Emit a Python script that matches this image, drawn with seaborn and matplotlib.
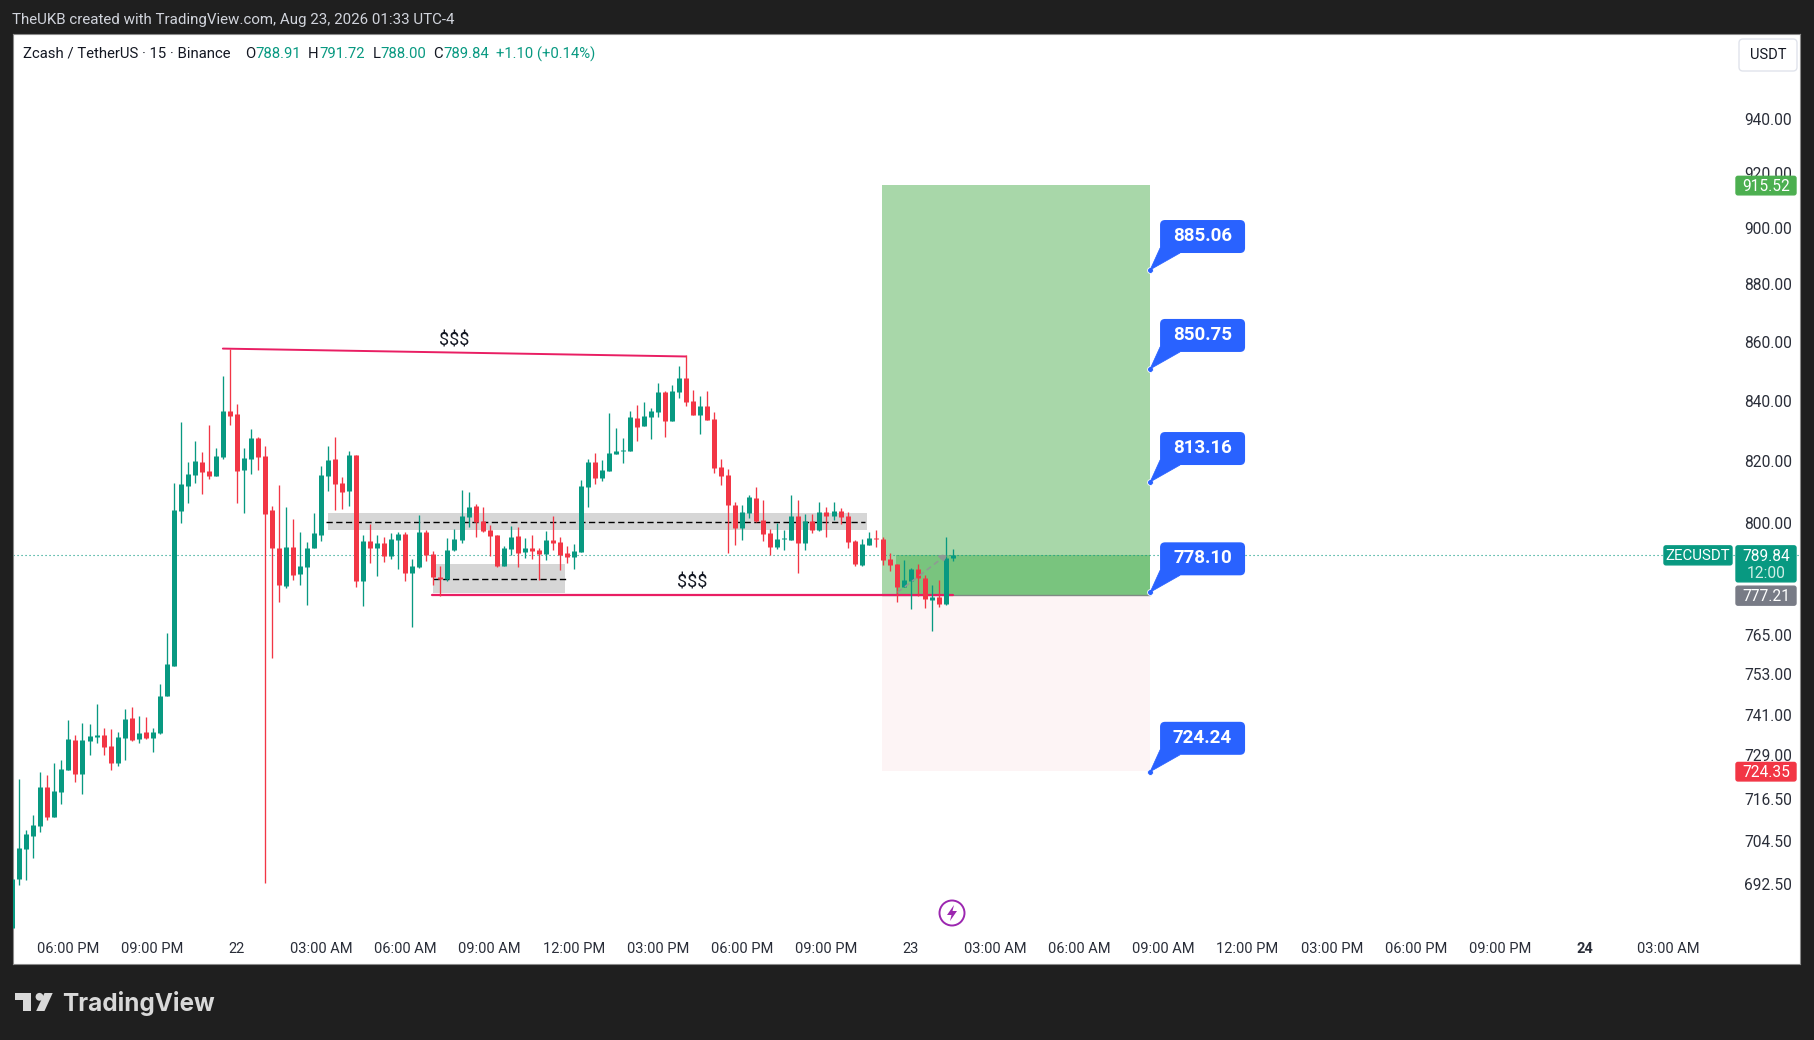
import pandas as pd
import seaborn as sns
from matplotlib import pyplot as plt
from matplotlib.patches import Circle, FancyBboxPatch, Polygon
from matplotlib.ticker import NullLocator
from matplotlib.transforms import Affine2D

# 15 minute candles
opens = [680.5, 693.8, 702.2, 705.8, 708.6, 719.8, 711.2, 718.3, 724.7, 733.5,
         723.6, 733.2, 734.3, 735.0, 731.7, 726.8, 734.1, 740.0, 733.8, 735.8,
         734.1, 735.6, 746.5, 755.4, 803.8, 811.9, 815.5, 819.6, 816.8, 815.2,
         821.2, 836.5, 835.5, 817.1, 820.7, 827.6, 821.6, 804.1, 792.1, 780.0,
         792.4, 783.8, 785.9, 791.9, 796.1, 815.2, 820.7, 812.8, 810.2, 821.9,
         781.6, 794.2, 792.0, 793.6, 789.5, 794.5, 796.4, 784.1, 786.0, 797.0,
         790.1, 782.9, 782.2, 791.4, 794.5, 801.8, 805.3, 800.5, 797.7, 796.1,
         786.3, 791.7, 795.8, 790.7, 792.0, 791.4, 790.1, 794.5, 793.9, 790.4,
         789.2, 790.7, 811.5, 819.7, 814.4, 816.7, 822.2, 823.3, 823.3, 834.2,
         831.5, 834.6, 836.2, 842.9, 833.2, 842.9, 847.6, 839.9, 835.2, 838.2,
         833.9, 817.9, 815.4, 805.6, 798.3, 803.1, 807.9, 800.9, 796.7, 792.3,
         794.8, 794.5, 802.1, 793.6, 800.5, 797.7, 803.4, 802.1, 803.7, 802.1,
         794.2, 786.6, 792.9, 795.1, 794.8, 788.5, 786.9, 779.7, 781.6, 785.4,
         782.5, 775.7, 776.6, 774.4, 788.91]
highs = [694.0, 722.1, 707.6, 711.8, 724.1, 723.3, 726.8, 727.6, 739.4, 735.0,
         738.4, 738.2, 744.2, 737.1, 736.8, 735.8, 742.7, 743.2, 740.5, 740.2,
         737.1, 750.2, 765.7, 812.9, 832.8, 819.6, 826.5, 822.9, 831.8, 824.3,
         848.3, 857.7, 838.9, 824.3, 830.5, 827.8, 824.9, 805.4, 812.2, 805.0,
         801.3, 797.0, 793.8, 803.2, 818.4, 824.9, 827.8, 814.7, 823.3, 821.9,
         796.1, 799.6, 796.1, 795.5, 796.7, 797.0, 797.0, 788.5, 802.5, 797.7,
         791.0, 786.3, 795.1, 798.0, 810.5, 809.9, 806.0, 805.0, 799.3, 796.1,
         792.6, 798.9, 798.6, 795.1, 796.1, 792.0, 797.4, 802.1, 795.5, 792.6,
         793.2, 813.8, 820.7, 822.6, 820.4, 836.0, 830.9, 827.6, 836.6, 838.6,
         839.6, 837.6, 845.9, 843.2, 845.2, 851.9, 855.5, 843.6, 841.6, 843.2,
         836.2, 820.6, 817.3, 806.6, 805.6, 808.8, 811.5, 807.2, 798.0, 799.9,
         797.7, 809.1, 807.2, 802.7, 802.7, 806.6, 805.0, 806.6, 804.7, 803.4,
         794.5, 794.8, 797.0, 797.7, 795.5, 790.4, 786.9, 788.2, 785.7, 786.9,
         783.5, 780.4, 781.9, 795.5, 791.72]
lows = [680.5, 692.2, 693.5, 699.7, 706.9, 710.4, 711.2, 715.0, 724.7, 721.2,
        717.8, 729.1, 732.6, 729.1, 724.7, 725.9, 727.6, 733.2, 732.6, 733.8,
        730.0, 735.3, 746.5, 755.4, 800.0, 806.4, 812.9, 809.3, 814.2, 815.2,
        820.7, 831.8, 806.4, 803.2, 815.9, 817.1, 692.7, 757.9, 775.0, 779.4,
        781.9, 780.3, 774.1, 791.9, 794.2, 810.2, 804.1, 804.4, 805.3, 779.7,
        773.8, 787.3, 783.2, 787.5, 788.5, 785.4, 781.6, 767.4, 785.7, 787.9,
        780.4, 776.9, 781.6, 791.0, 793.6, 798.6, 795.4, 797.0, 789.5, 786.0,
        786.3, 789.8, 786.0, 788.8, 788.5, 781.9, 788.2, 791.4, 785.0, 787.3,
        785.4, 790.7, 805.0, 812.5, 813.4, 816.7, 822.2, 819.5, 823.3, 826.6,
        831.5, 827.2, 834.6, 827.9, 833.2, 840.9, 838.2, 835.2, 828.9, 833.6,
        816.0, 812.1, 790.4, 792.9, 794.5, 801.5, 800.2, 794.2, 789.8, 791.7,
        791.4, 794.5, 784.1, 791.4, 796.7, 797.3, 795.4, 800.9, 799.6, 792.0,
        786.3, 786.3, 792.9, 792.3, 786.6, 784.7, 775.0, 779.7, 772.9, 777.1,
        773.2, 766.2, 773.5, 774.1, 788.0]
closes = [694.0, 702.5, 706.4, 708.9, 719.8, 711.2, 718.6, 725.0, 733.8, 723.6,
          733.5, 734.6, 735.0, 731.4, 726.8, 734.3, 739.7, 733.5, 735.6, 734.1,
          735.8, 746.5, 756.0, 804.1, 812.5, 815.9, 819.9, 816.4, 815.2, 821.6,
          836.5, 834.8, 816.8, 821.0, 827.6, 821.2, 802.9, 791.9, 780.3, 792.4,
          783.5, 786.2, 792.1, 796.8, 815.5, 820.4, 812.5, 809.9, 821.9, 781.6,
          794.2, 792.0, 793.6, 789.5, 794.8, 796.4, 784.1, 786.3, 797.0, 789.8,
          782.9, 782.2, 791.4, 794.8, 802.1, 805.0, 800.2, 797.3, 795.8, 786.3,
          792.0, 795.4, 790.4, 792.0, 791.0, 790.1, 794.5, 793.6, 789.8, 789.2,
          791.0, 811.8, 819.7, 814.4, 817.0, 822.6, 823.3, 823.6, 834.6, 831.2,
          834.9, 836.6, 842.9, 833.2, 843.2, 847.6, 839.6, 835.2, 838.2, 833.6,
          817.6, 815.0, 805.6, 798.3, 803.4, 808.2, 800.5, 796.4, 792.3, 794.8,
          795.1, 802.1, 793.6, 800.5, 797.7, 803.4, 802.1, 803.7, 801.8, 793.9,
          786.9, 793.2, 795.1, 794.8, 788.2, 786.6, 779.7, 781.9, 785.4, 782.5,
          776.0, 776.6, 774.4, 788.8, 789.84]

price_ticks = [940, 920, 900, 880, 860, 840, 820, 800, 765, 753, 741, 729, 716.5, 704.5, 692.5]
time_ticks = [8, 20, 32, 44, 56, 68, 80, 92, 104, 116, 128, 140, 152, 164, 176, 188, 200, 212, 224, 236]
time_labels = ["06:00 PM", "09:00 PM", "22", "03:00 AM", "06:00 AM", "09:00 AM", "12:00 PM", "03:00 PM",
               "06:00 PM", "09:00 PM", "23", "03:00 AM", "06:00 AM", "09:00 AM", "12:00 PM", "03:00 PM",
               "06:00 PM", "09:00 PM", "24", "03:00 AM"]
targets = [885.06, 850.75, 813.16, 778.10, 724.24]

last_price = 789.84
entry = 777.21
take_profit = 915.52
stop_loss = 724.35

GREEN = "#089981"
RED = "#f23645"
BLUE = "#2962ff"
PINK = "#e91e63"
W, H = 1814, 1040

sns.set_theme(style="white")
plt.rcParams["font.family"] = ["Roboto", "DejaVu Sans"]

fig = plt.figure(figsize=(W / 100, H / 100), dpi=100, facecolor="#1f1f1f")
ax = fig.add_axes([13 / W, 1 - 964 / H, (1800 - 13) / W, (964 - 34) / H], facecolor="white")
ax.set_yscale("log")
px = Affine2D().scale(1 / W, -1 / H).translate(0, 1) + fig.transFigure

df = pd.DataFrame({"bar": range(len(opens)), "open": opens, "high": highs, "low": lows, "close": closes})
df["direction"] = ["up" if c >= o else "down" for o, c in zip(opens, closes)]
wicks = df.melt(id_vars=["bar", "direction"], value_vars=["low", "high"], value_name="price")
bodies = df.melt(id_vars=["bar", "direction"], value_vars=["open", "close"], value_name="price")
palette = {"up": GREEN, "down": RED}

# position tool behind the candles
ax.fill_between([123.9, 162.1], entry, take_profit, color="#a8d7a9", lw=0, zorder=1)
ax.fill_between([123.9, 162.1], stop_loss, entry, color="#fdf4f5", lw=0, zorder=1)
ax.fill_between([125.9, 162.1], entry, last_price, color="#79c47e", lw=0, zorder=1.1)
ax.plot([123.9, 162.1], [entry, entry], color="#808a84", lw=1.0, zorder=1.2)

# grey zones with their mid lines
ax.fill_between([45, 121.75], 797.7, 803.1, color="#d6d6d6", lw=0, zorder=1)
ax.plot([44.7, 121.5], [800.4, 800.4], color="black", lw=1.0, ls=(0, (4.5, 2.5)), zorder=2.5)
ax.fill_between([60, 78.7], 777.8, 787.0, color="#d6d6d6", lw=0, zorder=1)
ax.plot([60, 79], [782.4, 782.4], color="black", lw=1.0, ls=(0, (4.5, 2.5)), zorder=2.5)

ax.axhline(last_price, color=GREEN, lw=0.8, ls=(0, (1, 2.6)), zorder=1.5)

sns.lineplot(data=wicks, x="bar", y="price", hue="direction", units="bar", estimator=None, sort=False,
             palette=palette, legend=False, linewidth=0.95, solid_capstyle="butt", zorder=3, ax=ax)
sns.lineplot(data=bodies, x="bar", y="price", hue="direction", units="bar", estimator=None, sort=False,
             palette=palette, legend=False, linewidth=3.6, solid_capstyle="butt", zorder=3.1, ax=ax)

ax.plot([30, 96], [857.7, 855.0], color=PINK, lw=1.4, zorder=2.8)
ax.plot([59.8, 134], [entry, entry], color=PINK, lw=1.6, zorder=2.8)
ax.text(62.9, 860.6, "$$$", ha="center", va="center", fontsize=13, color="#131722")
ax.text(96.8, 781.3, "$$$", ha="center", va="center", fontsize=13, color="#131722")
ax.annotate("", xy=(133.3, 790.2), xytext=(126.2, 778.2), zorder=3.5,
            arrowprops=dict(arrowstyle="-|>", color="#8f9a94", lw=1.2, ls=(0, (2.5, 3)), shrinkA=0, shrinkB=0))

ax.set_xlabel("")
ax.set_ylabel("")
ax.yaxis.tick_right()
ax.yaxis.set_minor_locator(NullLocator())
ax.set_yticks(price_ticks, [f"{p:.2f}" for p in price_ticks])
ax.set_xticks(time_ticks, time_labels)
ax.tick_params(axis="y", length=0, pad=-23, labelsize=11.2, labelcolor="#2a2e39")
ax.tick_params(axis="x", length=0, pad=-11, labelsize=10.5, labelcolor="#2a2e39")
for label_ in ax.get_yticklabels():
    label_.set_ha("center")
for label_ in ax.get_xticklabels():
    label_.set_va("center")
    if label_.get_text() == "24":
        label_.set_fontweight("bold")
for side in ax.spines.values():
    side.set_color("#8a8a8a")
    side.set_linewidth(0.8)

sns.scatterplot(x=[162.1] * len(targets), y=targets, color=BLUE, s=18, edgecolor="white", linewidth=0.6,
                legend=False, zorder=4, ax=ax)
ax.set_xlim(0.1, 254.7)
ax.set_ylim(670.7, 972.6)


def price_y(price):
    return H - ax.transData.transform((0, price))[1]


def bar_x(bar):
    return ax.transData.transform((bar, 800))[0]


def tag(x0, x1, y0, y1, color):
    fig.add_artist(FancyBboxPatch((x0 + 1, y0 + 1), x1 - x0 - 2, y1 - y0 - 2, boxstyle="round,pad=0,rounding_size=2",
                                  fc=color, ec=color, lw=1, transform=px, zorder=5))


def label(x, y, text, **kw):
    kw.setdefault("color", "white")
    kw.setdefault("fontsize", 11.2)
    kw.setdefault("va", "center")
    fig.text(x, y + 1, text, transform=px, zorder=6, **kw)


# price axis tags
tp_y = price_y(take_profit)
sl_y = price_y(stop_loss)
en_y = price_y(entry)
lp_y = price_y(last_price)
tag(1735, 1797, tp_y - 10, tp_y + 10.5, "#4caf50")
label(1766, tp_y, f"{take_profit:.2f}", ha="center")
tag(1735, 1797, sl_y - 10, sl_y + 10.5, RED)
label(1766, sl_y, f"{stop_loss:.2f}", ha="center")
tag(1735, 1797, en_y - 10, en_y + 11, "#787b86")
label(1766, en_y, f"{entry:.2f}", ha="center")
tag(1735, 1797, lp_y - 10, lp_y + 28, GREEN)
label(1766, lp_y + 1, f"{last_price:.2f}", ha="center")
label(1766, lp_y + 18, "12:00", ha="center", color="#cfeee6")
tag(1663, 1733, lp_y - 10, lp_y + 11, GREEN)
label(1698, lp_y, "ZECUSDT", ha="center", fontsize=10.8)

# callouts for the targets
anchor_x = bar_x(162.1)
for value in targets:
    y = price_y(value)
    fig.add_artist(Polygon([(anchor_x, y), (anchor_x + 10, y - 22), (anchor_x + 30, y - 17)],
                           fc=BLUE, ec=BLUE, lw=0.5, transform=px, zorder=5))
    fig.add_artist(FancyBboxPatch((anchor_x + 10, y - 50), 85, 33, boxstyle="round,pad=0,rounding_size=5",
                                  fc=BLUE, ec="none", transform=px, zorder=5))
    label(anchor_x + 52.5, y - 35, f"{value:.2f}", ha="center", fontsize=13.5, fontweight="bold")

# header text, legend row
label(12.5, 19, "TheUKB created with TradingView.com, Aug 23, 2026 01:33 UTC-4", color="#d1d4dc", fontsize=10.9)
label(23, 53, "Zcash / TetherUS · 15 · Binance", color="#131722", fontsize=10.7)
for x, head, x2, value in [(245, "O", 255, "788.91"), (308, "H", 319, "791.72"),
                           (373, "L", 380, "788.00"), (433.5, "C", 443, "789.84")]:
    label(x, 53, head, color="#131722", fontsize=10.7)
    label(x2, 53, value, color=GREEN, fontsize=10.7)
label(496.5, 53, "+1.10 (+0.14%)", color=GREEN, fontsize=10.7)

# USDT button
fig.add_artist(FancyBboxPatch((1739, 39), 58, 32, boxstyle="round,pad=0,rounding_size=4", fc="white",
                              ec="#e0e3eb", lw=1, transform=px, zorder=5))
label(1768, 54, "USDT", ha="center", color="#131722", fontsize=10.5)

# lightning badge
fig.add_artist(Circle((952, 913), 12.5, fc="white", ec="#9c27b0", lw=1.4, transform=px, zorder=5))
fig.add_artist(Polygon([(954, 905), (947, 915), (951.5, 915), (950, 921), (957, 911), (952.5, 911)],
                       fc="#9c27b0", ec="none", transform=px, zorder=6))

# footer logo
logo = "#d9d9d9"
fig.add_artist(Polygon([(15, 993), (30.7, 993), (30.7, 1011), (22.7, 1011), (22.7, 1000.3), (15, 1000.3)],
                       fc=logo, ec="none", transform=px, zorder=5))
fig.add_artist(Circle((39.5, 996.8), 3.9, fc=logo, ec="none", transform=px, zorder=5))
fig.add_artist(Polygon([(44.5, 993), (52.7, 993), (44.5, 1011), (36.2, 1011)],
                       fc=logo, ec="none", transform=px, zorder=5))
label(62, 1002, "TradingView", color=logo, fontsize=17.5, fontweight="bold", family=["Inter", "DejaVu Sans"])

fig.savefig("out.png", dpi=100, facecolor=fig.get_facecolor())
